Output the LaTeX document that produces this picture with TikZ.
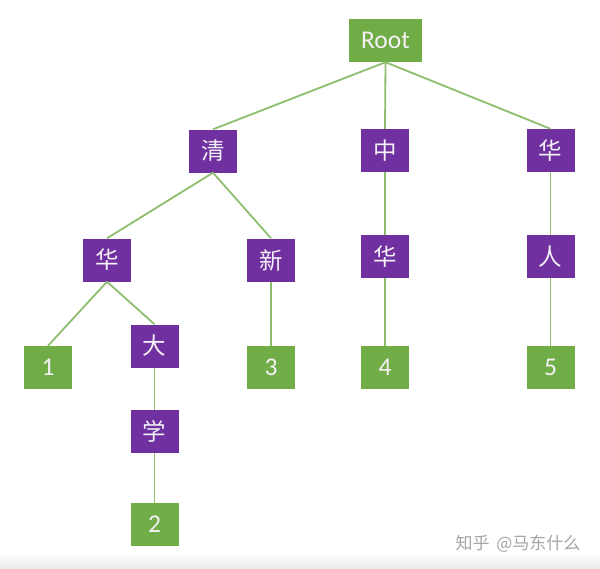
\documentclass[tikz,border=0pt]{standalone}
\usepackage{fontspec}
\setmainfont{Carlito}
\newfontfamily\cjk{Noto Sans CJK SC}
\definecolor{boxgreen}{HTML}{70AD47}
\definecolor{boxpurple}{HTML}{7030A0}
\definecolor{linegreen}{HTML}{8CBE6E}
\definecolor{txtwhite}{HTML}{F4F1F6}
\definecolor{wmgray}{HTML}{A4A4A4}
\begin{document}
\begin{tikzpicture}[x=1pt,y=-1pt,
  gbox/.style={fill=boxgreen, text=txtwhite, minimum width=48pt, minimum height=43pt, inner sep=0pt, font=\fontsize{25.5}{25.5}\selectfont},
  pbox/.style={fill=boxpurple, text=txtwhite, minimum width=48pt, minimum height=43pt, inner sep=0pt, font=\cjk\fontsize{23.5}{23.5}\selectfont},
  link/.style={draw=linegreen, line width=1.8pt}]
\useasboundingbox (0,0) rectangle (600,568);
\shade[top color=white, bottom color=black!8] (0,552) rectangle (600,568);
% connectors
\coordinate (c) at (0,0);
% nodes
\node[gbox, minimum width=73pt] (root) at (385.5,40.5) {Root};
\node[pbox] (qing) at (213,151) {清};
\node[pbox] (zhong) at (385,150.5) {中};
\node[pbox] (hua3) at (550.5,150.5) {华};
\node[pbox] (hua1) at (107,260) {华};
\node[pbox] (xin) at (271,260) {新};
\node[pbox] (hua2) at (385,256.5) {华};
\node[pbox] (ren) at (550.5,256.5) {人};
\node[gbox] (n1) at (48,367.5) {1};
\node[pbox] (da) at (154.5,346) {大};
\node[gbox] (n3) at (271,367.5) {3};
\node[gbox] (n4) at (385,367.5) {4};
\node[gbox] (n5) at (550.5,367.5) {5};
\node[pbox] (xue) at (154.5,431.5) {学};
\node[gbox] (n2) at (154.5,524.5) {2};
\draw[link] (root.south) -- (qing.north);
\draw[link] (root.south) -- (zhong.north);
\draw[link] (root.south) -- (hua3.north);
\draw[link] (qing.south) -- (hua1.north);
\draw[link] (qing.south) -- (xin.north);
\draw[link] (zhong.south) -- (hua2.north);
\draw[link] (hua3.south) -- (ren.north);
\draw[link] (hua1.south) -- (n1.north);
\draw[link] (hua1.south) -- (da.north);
\draw[link] (xin.south) -- (n3.north);
\draw[link] (hua2.south) -- (n4.north);
\draw[link] (ren.south) -- (n5.north);
\draw[link] (da.south) -- (xue.north);
\draw[link] (xue.south) -- (n2.north);
\node[text=wmgray, font=\cjk\fontsize{17}{17}\selectfont, inner sep=0pt] (wm) at (518,544) {知乎\hspace{3pt} @马东什么};
\end{tikzpicture}
\end{document}
